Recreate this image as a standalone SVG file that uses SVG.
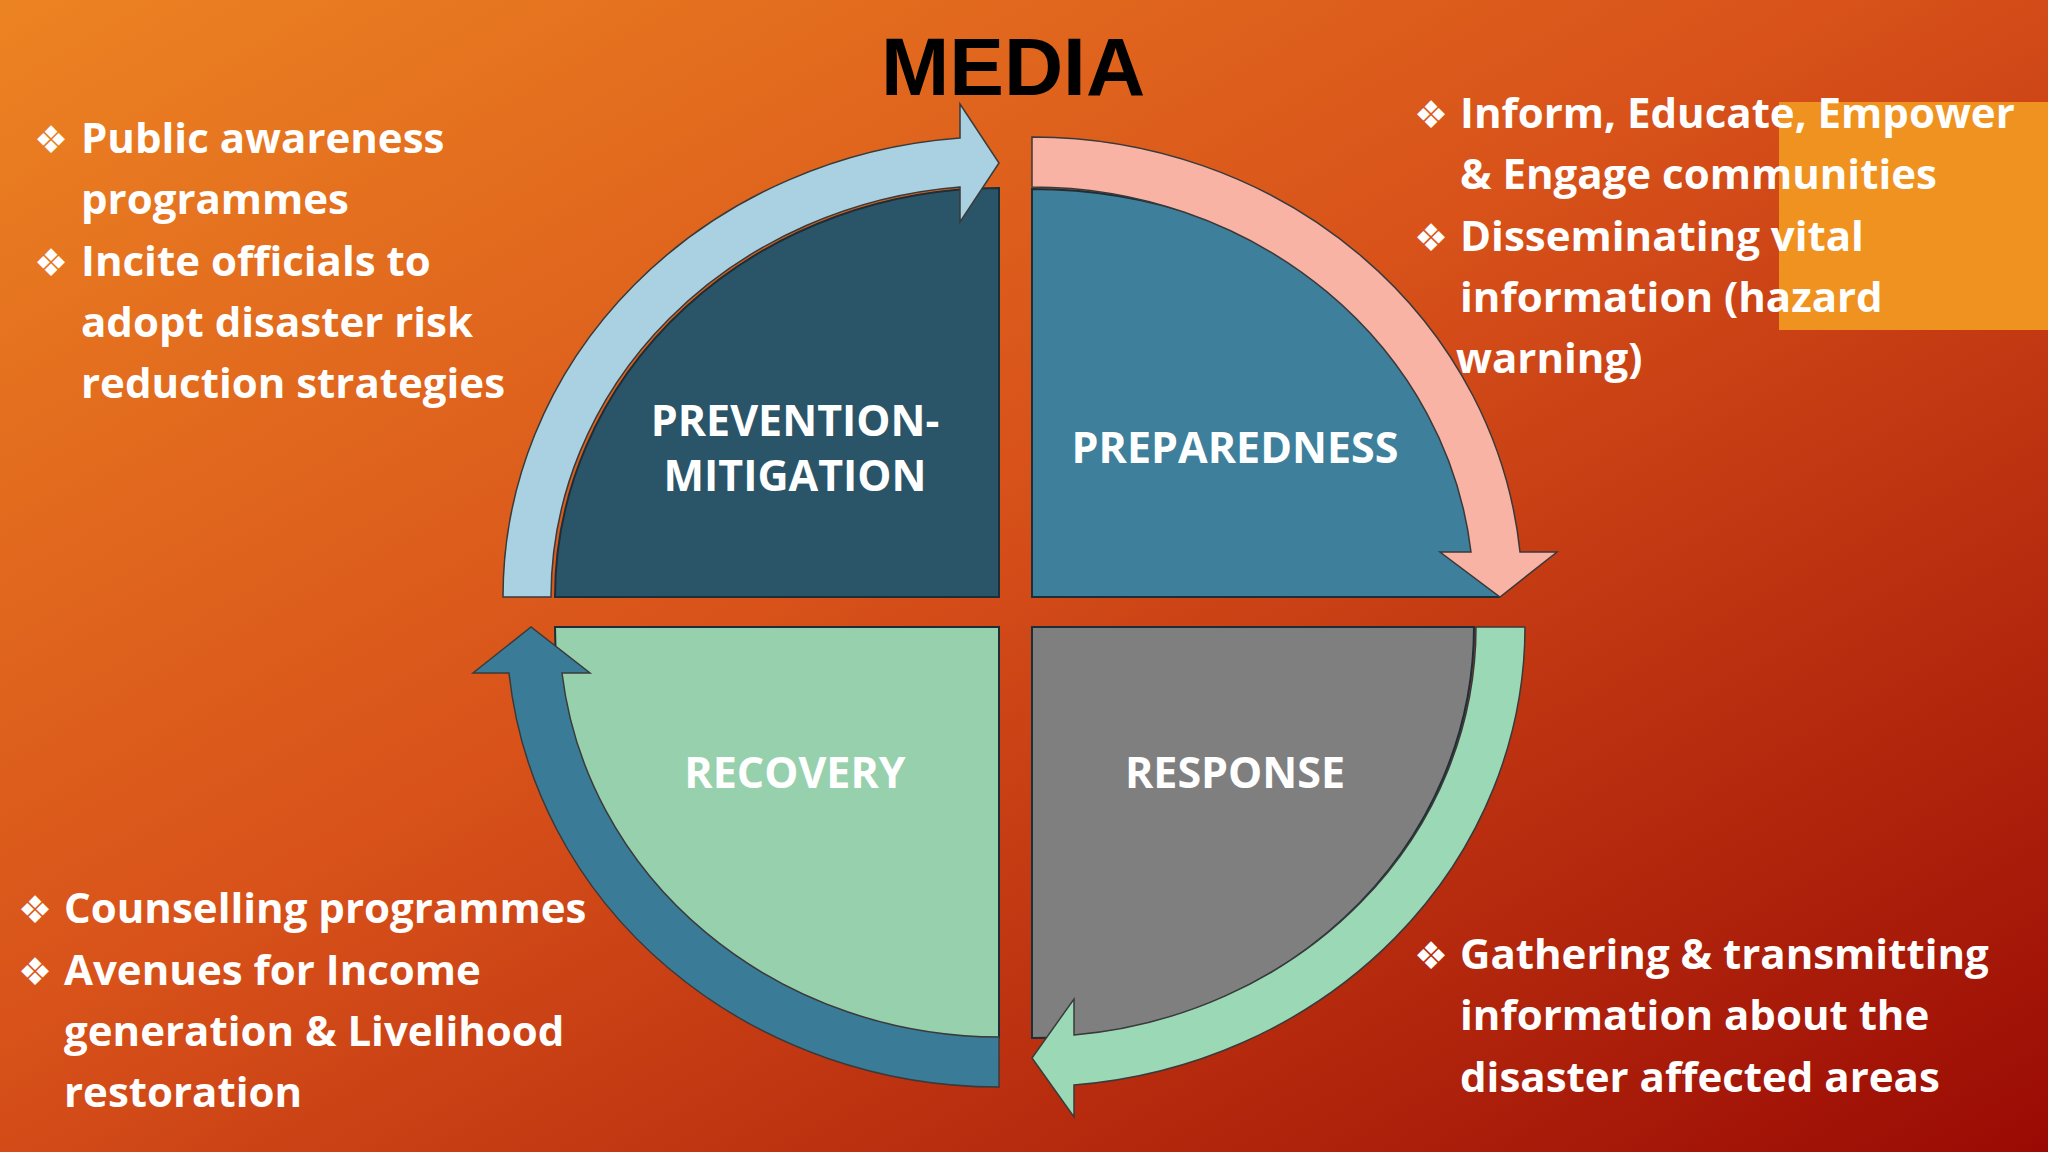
<svg xmlns="http://www.w3.org/2000/svg" width="2048" height="1152" viewBox="0 0 2048 1152">
<defs>
<linearGradient id="bg" x1="0" y1="0" x2="1" y2="1">
<stop offset="0" stop-color="#ec8322"/>
<stop offset="0.45" stop-color="#d8521a"/>
<stop offset="1" stop-color="#9a0a04"/>
</linearGradient>
</defs>
<style>
.t{font-family:"Open Sans","Liberation Sans",sans-serif;font-weight:bold;font-size:42px;fill:#fff}
.b{font-family:"DejaVu Sans",sans-serif;font-size:38px}
.q{font-family:"Open Sans","Liberation Sans",sans-serif;font-weight:bold;font-size:43px;fill:#fff;text-anchor:middle}
.qs{stroke:#1c2e38;stroke-width:2}
.as{stroke:#3a3a3a;stroke-width:1.5}
</style>
<rect width="2048" height="1152" fill="url(#bg)"/>
<rect x="1779" y="102" width="269" height="228" fill="#f0921f"/>
<text x="1013" y="95" text-anchor="middle" font-family="Liberation Sans,sans-serif" font-weight="bold" font-size="82" fill="#000">MEDIA</text>
<g id="prevention">
<path class="qs" d="M999,597 L555,597 A444 409 0 0 1 999,188 Z" fill="#2a5468"/>
<text class="q" x="795" y="436">PREVENTION-</text>
<text class="q" x="795" y="491">MITIGATION</text>
</g>
<g id="preparedness">
<path class="qs" d="M1032,597 L1032,189 A467 409 0 0 1 1499,597 Z" fill="#3e7f9b"/>
<text class="q" x="1235" y="463">PREPAREDNESS</text>
</g>
<g id="response">
<path class="qs" d="M1032,627 L1474,627 A442 411 0 0 1 1032,1038 Z" fill="#7f7f7f"/>
<text class="q" x="1235" y="788">RESPONSE</text>
</g>
<g id="recovery">
<path class="qs" d="M999,627 L999,1038 A444 411 0 0 1 555,627 Z" fill="#97d0ac"/>
<text class="q" x="795" y="788">RECOVERY</text>
</g>
<g id="connectors">
<path class="as" d="M503,597 A496 460 0 0 1 960,138 L960,104 L999,163 L960,222 L960,187 A448 412 0 0 0 551,597 Z" fill="#a9d1e1"/>
<path class="as" d="M1032,137 A490 460 0 0 1 1520,552 L1557,552 L1500,597 L1440,552 L1471,552 A442 410 0 0 0 1032,187 Z" fill="#f8b3a5"/>
<path class="as" d="M1525,627 A493 460 0 0 1 1074,1085 L1074,1117 L1032,1058 L1074,999 L1074,1035 A444 410 0 0 0 1476,627 Z" fill="#9ad8b6"/>
<path class="as" d="M999,1087 A492 460 0 0 1 509,673 L473,673 L531,627 L590,673 L562,673 A440 410 0 0 0 999,1037 Z" fill="#3a7c98"/>
</g>
<g id="text-prevention">
<text class="t" x="34" y="153"><tspan class="b">❖</tspan><tspan x="81">Public awareness</tspan></text>
<text class="t" x="81" y="214">programmes</text>
<text class="t" x="34" y="276"><tspan class="b">❖</tspan><tspan x="81">Incite officials to</tspan></text>
<text class="t" x="81" y="337">adopt disaster risk</text>
<text class="t" x="81" y="398">reduction strategies</text>
</g>
<g id="text-preparedness">
<text class="t" x="1414" y="128"><tspan class="b">❖</tspan><tspan x="1460">Inform, Educate, Empower</tspan></text>
<text class="t" x="1460" y="189">&amp; Engage communities</text>
<text class="t" x="1414" y="251"><tspan class="b">❖</tspan><tspan x="1460">Disseminating vital</tspan></text>
<text class="t" x="1460" y="312">information (hazard</text>
<text class="t" x="1456" y="373">warning)</text>
</g>
<g id="text-recovery">
<text class="t" x="18" y="923"><tspan class="b">❖</tspan><tspan x="64">Counselling programmes</tspan></text>
<text class="t" x="18" y="985"><tspan class="b">❖</tspan><tspan x="64">Avenues for Income</tspan></text>
<text class="t" x="64" y="1046">generation &amp; Livelihood</text>
<text class="t" x="64" y="1107">restoration</text>
</g>
<g id="text-response">
<text class="t" x="1414" y="969"><tspan class="b">❖</tspan><tspan x="1460">Gathering &amp; transmitting</tspan></text>
<text class="t" x="1460" y="1030">information about the</text>
<text class="t" x="1460" y="1092">disaster affected areas</text>
</g>
</svg>
